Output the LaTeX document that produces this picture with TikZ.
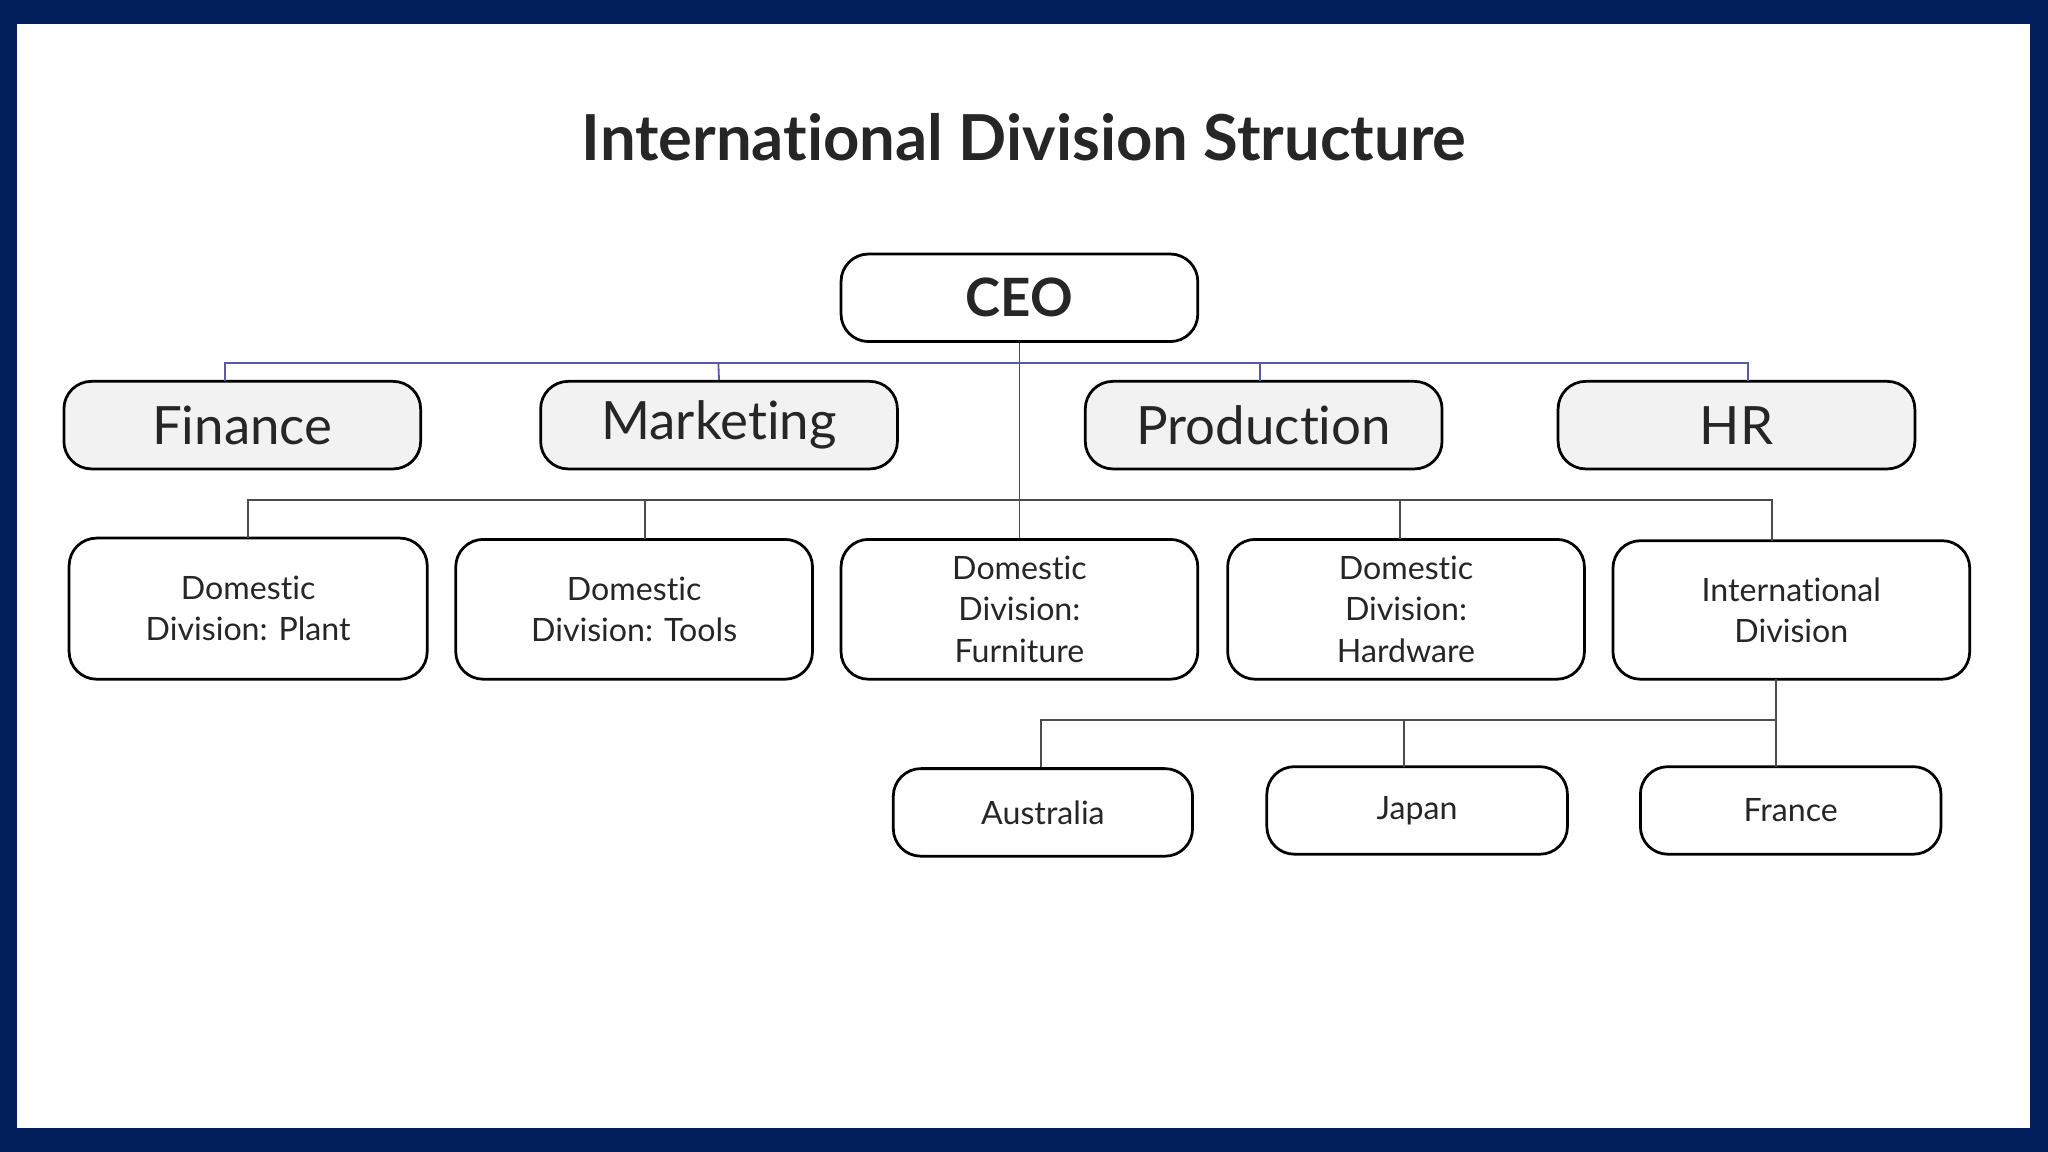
\documentclass[tikz,border=0pt]{standalone}
\usepackage{fontspec}
\setmainfont{Lato}[Contextuals=NoAlternate,Ligatures=NoCommon]
\begin{document}
\begin{tikzpicture}[x=0.01cm,y=-0.01cm,
 box/.style={draw=black,line width=0.6pt,rounded corners=6pt,align=center,inner sep=0pt,text=black!85},
 dept/.style={box,fill=gray!10,font=\fontsize{11.5}{13}\selectfont},
 sub/.style={box,font=\fontsize{7}{9}\selectfont},
 bl/.style={draw=blue!30!gray,line width=0.4pt},
 gl/.style={draw=black!70,line width=0.4pt}]
\fill[fill={rgb,255:red,0;green,31;blue,91}] (0,0) rectangle (1568,882);
\fill[white] (13,18) rectangle (1554,864);
\node[font=\bfseries\fontsize{13.8}{16}\selectfont,text=black!85] (title) at (784,105) {International Division Structure};
\node[box,font=\bfseries\fontsize{11.5}{14}\selectfont,minimum width=2.73cm,minimum height=0.67cm] (ceo) at (780.5,228) {CEO};
\foreach \n/\x/\t in {fin/185.5/Finance,mkt/550.5/Marketing,prod/967.5/Production,hr/1329.5/HR}
 \node[dept,minimum width=2.73cm,minimum height=0.67cm] (\n) at (\x,325.5) {\t};
\node[sub,minimum width=2.74cm,minimum height=1.08cm] (d1) at (190,466) {Domestic\\Division: Plant};
\node[sub,minimum width=2.73cm,minimum height=1.07cm] (d2) at (485.5,466.5) {Domestic\\Division: Tools};
\node[sub,minimum width=2.73cm,minimum height=1.07cm] (d3) at (780.5,466.5) {Domestic\\Division:\\Furniture};
\node[sub,minimum width=2.73cm,minimum height=1.07cm] (d4) at (1076.5,466.5) {Domestic\\Division:\\Hardware};
\node[sub,minimum width=2.73cm,minimum height=1.06cm] (intl) at (1371.5,467) {International\\Division};
\node[sub,minimum width=2.29cm,minimum height=0.67cm] (au) at (798.5,622) {Australia};
\node[sub,minimum width=2.30cm,minimum height=0.67cm] (jp) at (1085,620.5) {Japan};
\node[sub,minimum width=2.30cm,minimum height=0.67cm] (fr) at (1371,620.5) {France};
% connectors
\draw[gl] (ceo.south) -- (d3.north);
\draw[bl] (172,292) |- (1338,278) -- (1338,292);
\draw[bl] (550,278) -- (mkt.north);
\draw[bl] (965,278) -- (965,292);
\draw[gl] (190,412) |- (1357,383) -- (1357,414);
\draw[gl] (494,383) -- (494,413);
\draw[gl] (1072,383) -- (1072,413);
\draw[gl] (1360,520) -- (1360,587);
\draw[gl] (797,587) |- (1360,551);
\draw[gl] (1075,551) -- (1075,587);
\end{tikzpicture}
\end{document}
